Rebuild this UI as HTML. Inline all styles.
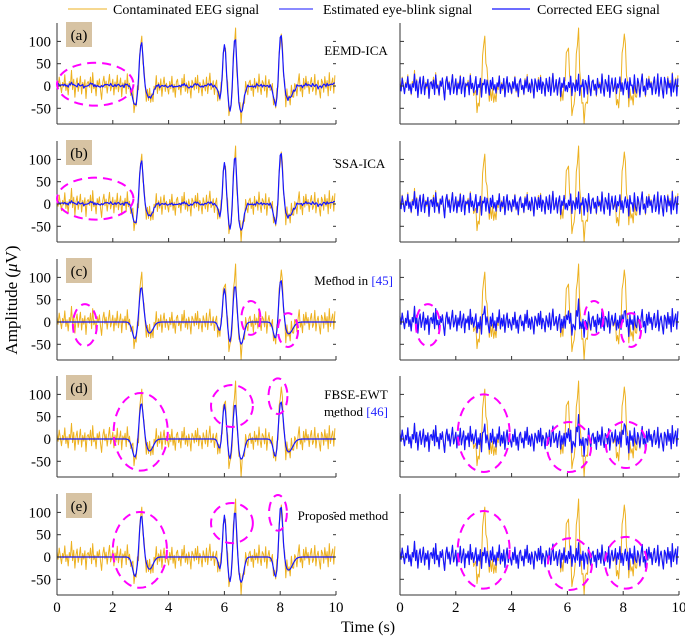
<!DOCTYPE html>
<html><head><meta charset="utf-8">
<style>
body{margin:0;background:#fff;}
svg{display:block;font-family:"Liberation Serif",serif;}
</style></head>
<body>
<svg id="chart" width="685" height="638" viewBox="0 0 685 638" xmlns="http://www.w3.org/2000/svg"></svg>
<script>
// ---- data ----
const timeTicks = [0,2,4,6,8,10];
const ampTicks = [-50,0,50,100];
const panelLabels = ['(a)','(b)','(c)','(d)','(e)'];
const methodNames = ['EEMD-ICA','SSA-ICA','Method in','FBSE-EWT','Proposed method'];
// eye-blink events: time (s), amplitude (uV), width (s)
const blinkTimes = [2.8,3.02,3.32,5.85,6.0,6.2,6.38,6.6,7.85,8.02,8.3];
const blinkAmps  = [-45,100,-28,-30,98,-58,112,-58,-50,127,-30];
const blinkWidths= [0.09,0.07,0.12,0.06,0.06,0.07,0.06,0.09,0.08,0.07,0.14];
// background EEG (25 samples / s)
const eegValues = [
12,-5,20,3,-15,8,-2,25,-10,5,-20,10,0,35,-8,15,-25,5,18,-12,2,22,-18,8,-5,
14,-28,6,10,-3,20,-15,30,-6,4,-22,12,-1,16,-9,-30,8,22,-4,11,-16,5,26,-11,0,
15,-20,9,-7,24,-13,3,18,-24,7,-2,13,-17,28,-5,10,-12,4,21,-19,6,-8,17,-26,9,
1,19,-14,12,-3,-21,14,-6,23,-10,5,-18,11,-1,27,-15,8,-9,16,-23,3,20,-12,6,-4,
-18,10,-6,22,-14,4,-25,9,15,-8,2,-20,17,-3,26,-12,7,-16,11,-2,-27,13,5,-9,19,
-6,24,-15,8,-1,-22,14,3,-11,20,-17,6,29,-8,-3,12,-19,4,16,-24,9,-5,21,-13,2,
-16,11,-4,25,-20,7,1,-12,18,-9,30,-22,5,-7,14,-26,10,3,-15,22,-2,-18,8,13,-10,
4,-23,17,-6,9,-14,27,-3,-19,12,6,-11,23,-25,2,15,-8,-1,19,-16,10,-4,24,-13,7,
-21,3,16,-9,11,-28,20,-2,8,-15,25,-6,-12,14,4,-19,9,28,-11,1,-24,17,-7,22,-3,
10,-17,6,19,-12,-4,26,-20,3,13,-9,-27,15,8,-14,21,-5,12,-22,30,-10,5,18,-16,24];

// ---- layout ----
const svg = document.getElementById('chart');
const NS = 'http://www.w3.org/2000/svg';
const zeros = [86,204,322,439,557];
const lefts = [57,400];
const pxPerSec = 27.9, pxPerUnit = 0.446;
const ORANGE = '#EDB120', BLUE = '#1515FF', MAG = '#FF00FF';
function mk(tag, attrs, parent){const e=document.createElementNS(NS,tag);for(const k in attrs)e.setAttribute(k,attrs[k]);(parent||svg).appendChild(e);return e;}
function xs(x0,t){return x0+t*pxPerSec;}
function ys(z,v){return z-v*pxPerUnit;}

const N = eegValues.length, dt = 10/N;
const tArr = eegValues.map((_,i)=>i*dt);
const blink = tArr.map(t=>{let s=0;for(let k=0;k<blinkTimes.length;k++){const d=(t-blinkTimes[k])/blinkWidths[k];s+=blinkAmps[k]*Math.exp(-0.5*d*d);}return s;});
function smooth(a,w){return a.map((_,i)=>{let s=0,c=0;for(let j=-w;j<=w;j++){if(a[i+j]!==undefined){s+=a[i+j];c++;}}return s/c;});}
const contaminated = tArr.map((_,i)=>eegValues[i]+blink[i]);
const eegSmooth = smooth(eegValues,2);
const est = [
  blink.map((b,i)=>b+eegSmooth[i]*0.8),
  blink.map((b,i)=>b+eegSmooth[i]*0.7),
  smooth(blink,1).map(v=>v*0.92),
  smooth(blink.map(v=>Math.max(-45,Math.min(85,v))),1),
  blink.map(v=>v*0.98)
];
const corrected = est.map(e=>contaminated.map((c,i)=>c-e[i]));

function path(x0,z,arr,color,w,name,parent){
  const d=arr.map((v,i)=>(i?'L':'M')+xs(x0,tArr[i]).toFixed(1)+','+ys(z,v).toFixed(1)).join('');
  const p=mk('path',{d:d,fill:'none',stroke:color,'stroke-width':w,'stroke-linejoin':'round'},parent);
  
  
}

// ellipses: [panel, side, tCenter, ampCenter, tRadius, ampRadius]
const ellipses = [
 [0,0,1.37,4,1.37,48],[1,0,1.37,12,1.37,47],
 [2,0,1.0,-7,0.43,47],[2,0,6.95,9,0.34,38],[2,0,8.28,-18,0.36,38],
 [2,1,1.0,-7,0.43,47],[2,1,6.95,9,0.34,38],[2,1,8.28,-18,0.36,38],
 [3,0,3.0,16,0.97,87],[3,0,6.27,74,0.75,47],[3,0,7.92,96,0.34,40],
 [3,1,3.0,13,0.93,87],[3,1,6.06,-18,0.79,56],[3,1,8.1,-13,0.72,52],
 [4,0,2.97,16,0.97,85],[4,0,6.27,76,0.75,45],[4,0,7.92,99,0.32,40],
 [4,1,3.0,16,0.93,87],[4,1,6.09,-16,0.79,58],[4,1,8.1,-13,0.75,58]
];

for(let p=0;p<5;p++){
  const z=zeros[p];
  for(let s=0;s<2;s++){
    const x0=lefts[s];
    const g=mk('g',{});
    
    
    path(x0,z,contaminated,ORANGE,1,'contaminated-eeg-line',g);
    path(x0,z,s?corrected[p]:est[p],BLUE,1.2,s?'corrected-eeg-line':'estimated-blink-line',g);
    const top=z-63, bot=z+38, x1=x0+10*pxPerSec;
    mk('line',{x1:x0,y1:top,x2:x0,y2:bot,stroke:'#333','stroke-width':1},g);
    mk('line',{x1:x0,y1:bot,x2:x1,y2:bot,stroke:'#333','stroke-width':1},g);
    timeTicks.forEach(t=>{
      mk('line',{x1:xs(x0,t),y1:bot,x2:xs(x0,t),y2:bot-4,stroke:'#333'},g);
      if(p===4){const tx=mk('text',{x:xs(x0,t),y:bot+17,'text-anchor':'middle','font-size':15},g);tx.textContent=t;
        }
    });
    ampTicks.forEach(v=>{
      mk('line',{x1:x0,y1:ys(z,v),x2:x0+4,y2:ys(z,v),stroke:'#333'},g);
      mk('line',{x1:x1,y1:ys(z,v),x2:x1-3,y2:ys(z,v),stroke:'#333'},g);
      if(s===0){const tx=mk('text',{x:x0-6,y:ys(z,v)+5,'text-anchor':'end','font-size':15},g);tx.textContent=v;
        }
    });
  }
  const lb=mk('rect',{x:66,y:z-64,width:26,height:25,fill:'#D7C3A3'});
  
  
  const lt=mk('text',{x:79,y:z-46,'text-anchor':'middle','font-size':15});
  lt.textContent=panelLabels[p];
  
  
}
function txt(x,y,str,anchor,size,name,color){const t=mk('text',{x:x,y:y,'text-anchor':anchor,'font-size':size,fill:color||'#000'});t.textContent=str;
  return t;}
txt(356,55,'EEMD-ICA','middle',13,'method-title-eemd-ica');
txt(360,168,'SSA-ICA','middle',13,'method-title-ssa-ica');
const m3=txt(393,285,'','end',13,'method-title-ref45');
const ts1=mk('tspan',{},m3);ts1.textContent='Method in ';
const ts2=mk('tspan',{fill:'#2222ff'},m3);ts2.textContent='[45]';
txt(356,399,'FBSE-EWT','middle',13,'method-title-fbse-ewt');
const m4=txt(356,416,'','middle',13,'method-title-ref46');
const ts3=mk('tspan',{},m4);ts3.textContent='method ';
const ts4=mk('tspan',{fill:'#2222ff'},m4);ts4.textContent='[46]';
txt(343,520,'Proposed method','middle',13,'method-title-proposed');

ellipses.forEach(e=>{
  const [p,s,tc,ac,tr,ar]=e;
  const el=mk('ellipse',{cx:xs(lefts[s],tc),cy:ys(zeros[p],ac),rx:tr*pxPerSec,ry:ar*pxPerUnit,fill:'none',stroke:MAG,'stroke-width':2,'stroke-dasharray':'9,6'});
  
  
});

const lg=mk('g',{});


mk('line',{x1:68,y1:9,x2:107,y2:9,stroke:ORANGE,'stroke-width':1},lg);
txt(113,14,'Contaminated EEG signal','start',14,'legend-entry-contaminated');
mk('line',{x1:279,y1:9,x2:313,y2:9,stroke:BLUE,'stroke-width':1},lg);
txt(323,14,'Estimated eye-blink signal','start',14,'legend-entry-estimated');
mk('line',{x1:492,y1:9,x2:530,y2:9,stroke:BLUE,'stroke-width':1.3},lg);
txt(537,14,'Corrected EEG signal','start',14,'legend-entry-corrected');

txt(368,632,'Time (s)','middle',16,'x-axis-title');
const yt=mk('text',{x:0,y:0,'text-anchor':'middle','font-size':17,transform:'translate(17,300) rotate(-90)'});


const y1=mk('tspan',{},yt);y1.textContent='Amplitude (';
const y2=mk('tspan',{'font-style':'italic'},yt);y2.textContent='μ';
const y3=mk('tspan',{},yt);y3.textContent='V)';
</script>
</body></html>
